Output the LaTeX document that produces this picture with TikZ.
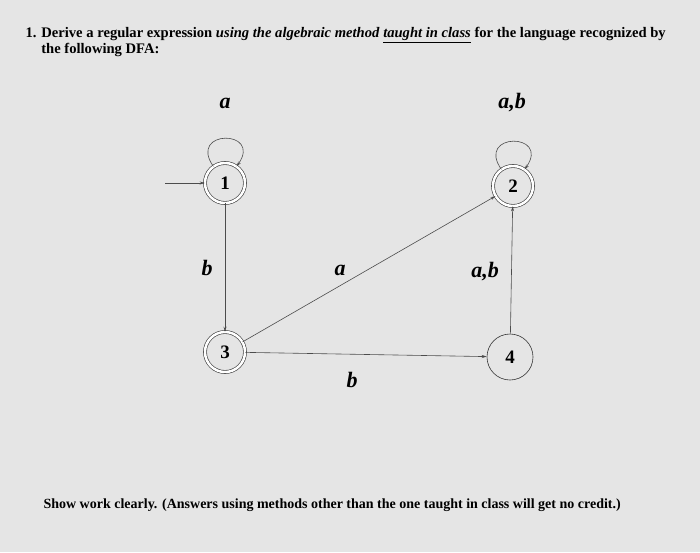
\documentclass[tikz,border=0pt]{standalone}
\usepackage{fontspec}
\setmainfont{Liberation Serif}
\usetikzlibrary{arrows.meta}
\begin{document}
\begin{tikzpicture}[x=1pt,y=-1pt,
  st/.style={circle,draw=black!80,line width=0.6pt,minimum size=40pt,inner sep=0pt,font=\bfseries\fontsize{19}{19}\selectfont},
  acc/.style={st,double,double distance=2.5pt},
  edge/.style={draw=black!70,line width=0.6pt,-{Stealth[length=5pt,width=3pt]}},
  lbl/.style={font=\bfseries\itshape\fontsize{22}{22}\selectfont}]
\fill[black!10] (0,0) rectangle (700,552);
\useasboundingbox (0,0) rectangle (700,552);
\node[anchor=west,align=left,font=\bfseries\fontsize{14.6}{16}\selectfont] (hdr) at (22,42)
 {1. Derive a regular expression \textit{using the algebraic method} \underline{\textit{taught in class}} for the language recognized by\\
 \phantom{1. }the following DFA:};
\node[acc] (s1) at (225,183) {1};
\node[acc] (s2) at (513,186) {2};
\node[acc] (s3) at (225,352) {3};
\node[st,minimum size=46pt] (s4) at (510,357) {4};
\coordinate (init) at (165,183);
\draw[edge] (init) -- (s1);
\draw[edge] (s1) to[out=125,in=55,looseness=5] (s1);
\draw[edge] (s2) to[out=125,in=55,looseness=5] (s2);
\draw[edge] (s1) -- (s3);
\draw[edge] (s3) -- (s2);
\draw[edge] (s3) -- (s4);
\draw[edge] (s4) -- (s2);
\node[lbl] (la) at (225,103) {a};
\node[lbl] (lab) at (512,103) {a,b};
\node[lbl] (lb1) at (207,268) {b};
\node[lbl] (la2) at (340,270) {a};
\node[lbl] (lab2) at (485,272) {a,b};
\node[lbl] (lb2) at (352,380) {b};
\node[anchor=west,font=\bfseries\fontsize{14}{15}\selectfont] (ftr) at (40,505)
 {Show work clearly. (Answers using methods other than the one taught in class will get no credit.)};
\end{tikzpicture}
\end{document}
